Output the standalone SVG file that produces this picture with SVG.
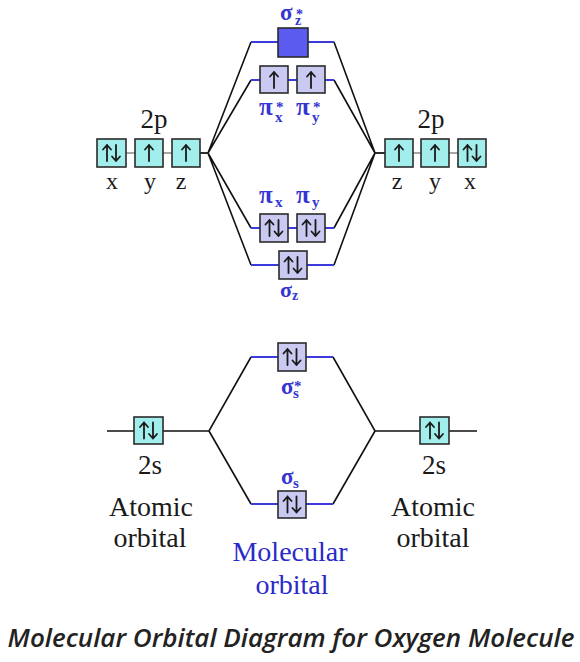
<svg xmlns="http://www.w3.org/2000/svg" width="580" height="662" viewBox="0 0 580 662">
<style>
.ao{fill:#a2eeec;stroke:#2b2b2b;stroke-width:1.6}
.mo{fill:#c9c9f2;stroke:#2b2b2b;stroke-width:1.6}
.moF{fill:#5b5bef;stroke:#2b2b2b;stroke-width:1.6}
.arr{fill:none;stroke:#1a1a1a;stroke-width:1.8;stroke-linecap:round;stroke-linejoin:round}
.blk{fill:none;stroke:#111;stroke-width:1.6}
.blue{fill:none;stroke:#3b3bdc;stroke-width:2}
.gray{fill:none;stroke:#8a8a8a;stroke-width:1.6}
.t{font-family:"Liberation Serif","Times New Roman",serif;fill:#1a1a1a;text-anchor:middle}
.g{font-family:"Liberation Serif","Times New Roman",serif;fill:#3535d2;font-weight:bold}
.mol{font-family:"Liberation Serif","Times New Roman",serif;fill:#2a2ac8;text-anchor:middle;font-size:28px}
.title{font-family:"Open Sans","Noto Sans",sans-serif;font-style:italic;font-weight:600;fill:#222;text-anchor:middle;font-size:26px}
</style>
<defs>
<path id="up" class="arr" d="M0,8 V-8 M-4,-3.5 L0,-8 L4,-3.5"/>
<path id="dn" class="arr" d="M0,-8 V8 M-4,3.5 L0,8 L4,3.5"/>
</defs>

<g id="connectors">
  <path class="gray" d="M126,153 H208"/>
  <path class="blk" d="M200,153 H208"/>
  <path class="blk" d="M208,153 L251,42 M208,153 L251,80 M208,153 L251,228 M208,153 L251,265"/>
  <path class="gray" d="M375,153 H458"/>
  <path class="blk" d="M375,153 H385"/>
  <path class="blk" d="M375,153 L334,42 M375,153 L334,80 M375,153 L334,228 M375,153 L334,265"/>
  <path class="blue" d="M251,42 H334"/>
  <path class="blue" d="M251,80 H334"/>
  <path class="blue" d="M251,228 H334"/>
  <path class="blue" d="M251,265 H334"/>
  <path class="blk" d="M107,431 H209 L251,357 M209,431 L251,504"/>
  <path class="blk" d="M477,431 H375 L333,357 M375,431 L333,504"/>
  <path class="blue" d="M251,357 H333"/>
  <path class="blue" d="M251,504 H333"/>
</g>

<g id="ao-2p-left">
  <rect class="ao" x="97" y="139" width="29" height="28"/>
  <use href="#up" x="107" y="153"/><use href="#dn" x="116" y="153"/>
  <rect class="ao" x="135" y="139" width="28" height="28"/>
  <use href="#up" x="149" y="153"/>
  <rect class="ao" x="172" y="139" width="28" height="28"/>
  <use href="#up" x="186" y="153"/>
  <text class="t" x="154" y="128" font-size="27">2p</text>
  <text class="t" x="112" y="189" font-size="24">x</text>
  <text class="t" x="150" y="189" font-size="24">y</text>
  <text class="t" x="181" y="189" font-size="24">z</text>
</g>

<g id="ao-2p-right">
  <rect class="ao" x="385" y="139" width="28" height="28"/>
  <use href="#up" x="399" y="153"/>
  <rect class="ao" x="421" y="139" width="28" height="28"/>
  <use href="#up" x="435" y="153"/>
  <rect class="ao" x="458" y="139" width="28" height="28"/>
  <use href="#up" x="467.5" y="153"/><use href="#dn" x="476.5" y="153"/>
  <text class="t" x="431" y="128" font-size="27">2p</text>
  <text class="t" x="397" y="189" font-size="24">z</text>
  <text class="t" x="435" y="189" font-size="24">y</text>
  <text class="t" x="470" y="189" font-size="24">x</text>
</g>

<g id="mo-sigma-z-star">
  <rect class="moF" x="278" y="28" width="30" height="29"/>
  <text class="g" x="280" y="20" font-size="23">σ<tspan x="295" y="25" font-size="14">z</tspan><tspan x="296" y="19" font-size="14">*</tspan></text>
</g>

<g id="mo-pi-star">
  <rect class="mo" x="260" y="66" width="28" height="27"/>
  <use href="#up" x="274" y="80"/>
  <rect class="mo" x="297" y="66" width="28" height="27"/>
  <use href="#up" x="311" y="80"/>
  <text class="g" x="259" y="115" font-size="25">π<tspan x="275" y="122" font-size="15">x</tspan><tspan x="276" y="112" font-size="15">*</tspan></text>
  <text class="g" x="296" y="115" font-size="25">π<tspan x="312" y="122" font-size="15">y</tspan><tspan x="313" y="112" font-size="15">*</tspan></text>
</g>

<g id="mo-pi">
  <text class="g" x="259" y="203" font-size="25">π<tspan x="275" y="207" font-size="15">x</tspan></text>
  <text class="g" x="296" y="203" font-size="25">π<tspan x="312" y="207" font-size="15">y</tspan></text>
  <rect class="mo" x="260" y="214" width="28" height="28"/>
  <use href="#up" x="269.5" y="228"/><use href="#dn" x="278.5" y="228"/>
  <rect class="mo" x="297" y="214" width="28" height="28"/>
  <use href="#up" x="306.5" y="228"/><use href="#dn" x="315.5" y="228"/>
</g>

<g id="mo-sigma-z">
  <rect class="mo" x="279" y="251" width="28" height="28"/>
  <use href="#up" x="288.5" y="265"/><use href="#dn" x="297.5" y="265"/>
  <text class="g" x="280" y="297" font-size="22">σ<tspan x="292" y="300" font-size="14">z</tspan></text>
</g>

<g id="mo-sigma-s-star">
  <rect class="mo" x="278" y="343" width="28" height="28"/>
  <use href="#up" x="287.5" y="357"/><use href="#dn" x="296.5" y="357"/>
  <text class="g" x="281" y="394" font-size="23">σ<tspan x="293" y="398" font-size="15">s</tspan><tspan x="294" y="391" font-size="15">*</tspan></text>
</g>

<g id="mo-sigma-s">
  <text class="g" x="281" y="484" font-size="23">σ<tspan x="293" y="488" font-size="15">s</tspan></text>
  <rect class="mo" x="278" y="491" width="28" height="27"/>
  <use href="#up" x="287.5" y="504.5"/><use href="#dn" x="296.5" y="504.5"/>
</g>

<g id="ao-2s-left">
  <rect class="ao" x="134" y="417" width="29" height="27"/>
  <use href="#up" x="144" y="430.5"/><use href="#dn" x="153" y="430.5"/>
  <text class="t" x="150" y="474" font-size="27">2s</text>
  <text class="t" x="151" y="516" font-size="28">Atomic</text>
  <text class="t" x="150" y="547" font-size="28">orbital</text>
</g>

<g id="ao-2s-right">
  <rect class="ao" x="420" y="417" width="29" height="27"/>
  <use href="#up" x="430" y="430.5"/><use href="#dn" x="439" y="430.5"/>
  <text class="t" x="434" y="474" font-size="27">2s</text>
  <text class="t" x="433" y="516" font-size="28">Atomic</text>
  <text class="t" x="433" y="547" font-size="28">orbital</text>
</g>

<g id="mo-label">
  <text class="mol" x="290" y="561">Molecular</text>
  <text class="mol" x="292" y="594">orbital</text>
</g>

<text class="title" x="291" y="647">Molecular Orbital Diagram for Oxygen Molecule</text>
</svg>
